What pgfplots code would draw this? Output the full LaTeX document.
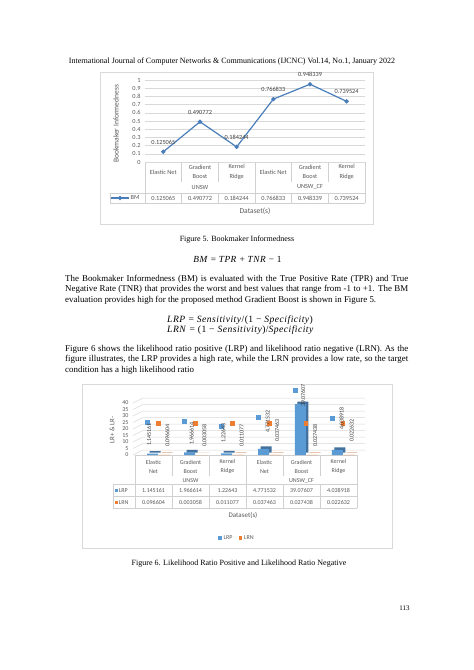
\documentclass[border=0pt]{standalone}
\usepackage{fontspec}
\setmainfont{Liberation Serif}
\newfontfamily\cf{Carlito}
\newfontfamily\eqf[LetterSpace=5]{Liberation Serif}
\usepackage{pgfplots}
\pgfplotsset{compat=1.18}
\definecolor{gridgray}{HTML}{D9D9D9}
\definecolor{tablegray}{HTML}{D0D0D0}
\definecolor{boxgray}{HTML}{D9D9D9}
\definecolor{txtgray}{HTML}{595959}
\definecolor{lbl}{HTML}{404040}
\definecolor{bmblue}{HTML}{4A7EBB}
\definecolor{lrpblue}{HTML}{5B9BD5}
\definecolor{lrpdark}{HTML}{41719C}
\definecolor{lrnorange}{HTML}{ED7D31}
\definecolor{lrndark}{HTML}{C0601F}
\hyphenpenalty=10000
\exhyphenpenalty=10000
\begin{document}
\begin{tikzpicture}
\begin{scope}[x=1pt,y=-1pt]
\path[use as bounding box, fill=white] (0,0) rectangle (474,670);
% header
\node[anchor=base, inner sep=0, font=\fontsize{8}{9.6}\selectfont] at (232,63.5) {International Journal of Computer Networks \& Communications (IJCNC) Vol.14, No.1, January 2022};
% chart boxes
\draw[boxgray, line width=0.6pt] (100,72) rectangle (373,224);
\draw[boxgray, line width=0.6pt] (82,384) rectangle (392,548);
% ---------- chart 1 texts
\node[rotate=90, font=\cf\fontsize{7.5}{9}\selectfont, text=txtgray] at (116,124) {Bookmaker Informedness};
\node[font=\cf\fontsize{7.5}{9}\selectfont, text=txtgray] at (255,211) {Dataset(s)};
% table lines chart 1
\begin{scope}[tablegray, line width=0.5pt]
\draw (145,162) -- (365,162);
\draw (145,162) -- (145,203);
\draw (365,162) -- (365,203);
\draw (255,162) -- (255,203);
\foreach \b in {181.67,218.33,291.67,328.33}{\draw (\b,162) -- (\b,182); \draw (\b,193) -- (\b,203);}
\draw (110,193) -- (365,193);
\draw (110,203) -- (365,203);
\draw (110,193) -- (110,203);
\end{scope}
\begin{scope}[every node/.style={font=\cf\fontsize{6.3}{9.5}\selectfont, text=txtgray, align=center, inner sep=0}]
\node at (163.3,172) {Elastic Net};
\node at (200,172) {Gradient\\Boost};
\node at (236.7,172) {Kernel\\Ridge};
\node at (273.3,172) {Elastic Net};
\node at (310,172) {Gradient\\Boost};
\node at (346.7,172) {Kernel\\Ridge};
\node at (200,187) {UNSW};
\node at (310,187) {UNSW\_CF};
\node at (163.3,198) {0.125065};
\node at (200,198) {0.490772};
\node at (236.7,198) {0.184244};
\node at (273.3,198) {0.766833};
\node at (310,198) {0.948339};
\node at (346.7,198) {0.739524};
\end{scope}
% ---------- body text
\node[anchor=base, inner sep=0, font=\fontsize{8}{9.6}\selectfont] at (237,241) {Figure 5. Bookmaker Informedness};
\node[anchor=base, inner sep=0, font=\eqf\fontsize{9.3}{11}\selectfont] at (237.5,262) {\textit{BM} = \textit{TPR} + \textit{TNR} − 1};
\node[anchor=base west, inner sep=0, text width=343pt, align=justify, font=\fontsize{8.9}{10.3}\selectfont] at (65,281.5) {The Bookmaker Informedness (BM) is evaluated with the True Positive Rate (TPR) and True\linebreak Negative Rate (TNR) that provides the worst and best values that range from -1 to +1. The BM\linebreak evaluation provides high for the proposed method Gradient Boost is shown in Figure 5.};
\node[anchor=base west, inner sep=0, font=\eqf\fontsize{9.6}{11}\selectfont] at (167,322) {\textit{LRP} = \textit{Sensitivity}/(1 − \textit{Specificity})};
\node[anchor=base west, inner sep=0, font=\eqf\fontsize{9.6}{11}\selectfont] at (167,332) {\textit{LRN} = (1 − \textit{Sensitivity})/\textit{Specificity}};
\node[anchor=base west, inner sep=0, text width=343pt, align=justify, font=\fontsize{8.9}{10.3}\selectfont] at (65,351.5) {Figure 6 shows the likelihood ratio positive (LRP) and likelihood ratio negative (LRN). As the\linebreak figure illustrates, the LRP provides a high rate, while the LRN provides a low rate, so the target\linebreak condition has a high likelihood ratio};
\node[anchor=base, inner sep=0, font=\fontsize{8}{9.6}\selectfont] at (239,565.5) {Figure 6. Likelihood Ratio Positive and Likelihood Ratio Negative};
\node[anchor=base, inner sep=0, font=\fontsize{7}{8}\selectfont] at (404.5,610.5) {113};
% ---------- chart 2 texts
\node[rotate=90, font=\cf\fontsize{6.8}{8}\selectfont, text=txtgray] at (112,430) {LR+ \& LR-};
\node[font=\cf\fontsize{7}{8}\selectfont, text=txtgray] at (243,515) {Dataset(s)};
\begin{scope}[tablegray, line width=0.5pt]
\draw (135,455) -- (357,455);
\draw (135,455) -- (135,508);
\draw (357,455) -- (357,508);
\draw (246,455) -- (246,508);
\foreach \b in {172,209,283,320}{\draw (\b,455) -- (\b,476); \draw (\b,484) -- (\b,508);}
\draw (113,484) -- (357,484);
\draw (113,496) -- (357,496);
\draw (113,508) -- (357,508);
\draw (113,484) -- (113,508);
\end{scope}
\begin{scope}[every node/.style={font=\cf\fontsize{6}{9}\selectfont, text=txtgray, align=center, inner sep=0}]
\node at (153.5,466.5) {Elastic\\Net};
\node at (190.5,466.5) {Gradient\\Boost};
\node at (227.5,466.5) {Kernel\\Ridge};
\node at (264.5,466.5) {Elastic\\Net};
\node at (301.5,466.5) {Gradient\\Boost};
\node at (338.5,466.5) {Kernel\\Ridge};
\node at (190.5,481) {UNSW};
\node at (301.5,481) {UNSW\_CF};
\node[anchor=west] at (114.5,490.5) {{\color{lrpblue}\rule{3.2pt}{3.2pt}}\,LRP};
\node[anchor=west] at (114.5,502.5) {{\color{lrnorange}\rule{3.2pt}{3.2pt}}\,LRN};
\node at (153.5,490.5) {1.145161};
\node at (190.5,490.5) {1.966614};
\node at (227.5,490.5) {1.22643};
\node at (264.5,490.5) {4.771532};
\node at (301.5,490.5) {39.07607};
\node at (338.5,490.5) {4.038918};
\node at (153.5,502.5) {0.096604};
\node at (190.5,502.5) {0.003058};
\node at (227.5,502.5) {0.011077};
\node at (264.5,502.5) {0.037463};
\node at (301.5,502.5) {0.027438};
\node at (338.5,502.5) {0.022632};
\end{scope}
\end{scope}

% ================= chart 1 axis
\begin{axis}[at={(145pt,-162pt)}, anchor=south west, scale only axis,
  width=220pt, height=82pt, xmin=-0.5, xmax=5.5, ymin=0, ymax=1,
  axis line style={draw=none}, xtick=\empty,
  ytick={0,0.1,0.2,0.3,0.4,0.5,0.6,0.7,0.8,0.9,1},
  yticklabels={0,0.1,0.2,0.3,0.4,0.5,0.6,0.7,0.8,0.9,1},
  major tick length=0pt, ymajorgrids, grid style={gridgray, line width=0.5pt},
  tick label style={font=\cf\fontsize{6.3}{7}\selectfont, text=txtgray},
  yticklabel style={xshift=-1pt},
  clip=false,
  legend style={at={(-0.158,-0.439)}, anchor=west, draw=none, fill=none, inner sep=0pt,
    font=\cf\fontsize{6.3}{7}\selectfont, text=txtgray, nodes={inner sep=1pt}},
  legend cell align=left]
\addplot[bmblue, line width=1.2pt, mark=*, mark size=1.5pt, mark options={fill=bmblue},
  point meta=explicit symbolic, nodes near coords,
  every node near coord/.append style={yshift=3.5pt, font=\cf\fontsize{6.3}{7}\selectfont, text=lbl},
  legend image code/.code={\draw[bmblue, line width=1.2pt] (0pt,0pt) -- (18pt,0pt); \fill[bmblue] (9pt,0pt) circle (1.5pt);}]
  coordinates {(0,0.125065)[0.125065] (1,0.490772)[0.490772] (2,0.184244)[0.184244]
               (3,0.766833)[0.766833] (4,0.948339)[0.948339] (5,0.739524)[0.739524]};
\addlegendentry{BM}
\end{axis}

% ================= chart 2 axis
\begin{axis}[at={(135pt,-455pt)}, anchor=south west, scale only axis,
  width=222pt, height=52pt, xmin=-0.5, xmax=5.5, ymin=0, ymax=40,
  axis line style={draw=none}, xtick=\empty,
  ytick={0,5,10,15,20,25,30,35,40},
  yticklabels={0,5,10,15,20,25,30,35,40},
  major tick length=0pt,
  tick label style={font=\cf\fontsize{6}{7}\selectfont, text=txtgray},
  yticklabel style={xshift=-3pt},
  clip=false,
  legend style={at={(0.459,-1.596)}, anchor=center, legend columns=2, draw=none, fill=none,
    font=\cf\fontsize{6}{7}\selectfont, text=txtgray,
    /tikz/every even column/.append style={column sep=4pt}}]
\pgfplotsinvokeforeach{0,5,10,15,20,25,30,35,40}{
  \draw[gridgray, line width=0.5pt] (axis cs:-0.5,#1) ++(-2pt,0pt) -- ++(10pt,5pt) -- ++(222pt,0pt);
}
\addplot[ybar, bar width=11pt, bar shift=1.5pt, fill=lrpdark, draw=none, yshift=2.5pt, forget plot]
  coordinates {(0,1.145161) (1,1.966614) (2,1.22643) (3,4.771532) (4,39.07607) (5,4.038918)};
\addplot[ybar, bar width=11pt, bar shift=-1pt, fill=lrpblue, draw=none,
  legend image code/.code={\fill[lrpblue] (0pt,-1.8pt) rectangle (3.6pt,1.8pt);}]
  coordinates {(0,1.145161) (1,1.966614) (2,1.22643) (3,4.771532) (4,39.07607) (5,4.038918)};
\addlegendentry{LRP}
\addplot[ybar, bar width=11pt, bar shift=13.5pt, fill=lrndark, draw=none, yshift=2.5pt, forget plot]
  coordinates {(0,0.096604) (1,0.003058) (2,0.011077) (3,0.037463) (4,0.027438) (5,0.022632)};
\addplot[ybar, bar width=11pt, bar shift=11pt, fill=lrnorange, draw=none,
  legend image code/.code={\fill[lrnorange] (0pt,-1.8pt) rectangle (3.6pt,1.8pt);}]
  coordinates {(0,0.096604) (1,0.003058) (2,0.011077) (3,0.037463) (4,0.027438) (5,0.022632)};
\addlegendentry{LRN}
\addplot[only marks, mark=square*, mark size=1.9pt, lrpblue, xshift=-6.5pt, forget plot]
  coordinates {(0,25.4) (1,26.2) (2,22.3) (3,29.2) (4,50) (5,28.5)};
\addplot[only marks, mark=square*, mark size=1.9pt, lrnorange, xshift=4.3pt, forget plot]
  coordinates {(0,24.6) (1,24.6) (2,24.6) (3,24.6) (4,24.6) (5,24.6)};
\end{axis}

% data labels chart 2
\begin{scope}[x=1pt,y=-1pt, every node/.style={rotate=90, anchor=west, inner sep=0, font=\cf\fontsize{6}{7}\selectfont, text=lbl}]
\node at (149,446) {1.145161};
\node at (191.7,445) {1.966614};
\node at (223.3,443) {1.22643};
\node at (267.7,433) {4.771532};
\node at (303,407) {39.07607};
\node at (341.7,430) {4.038918};
\node at (167.3,447) {0.096604};
\node at (204.3,447) {0.003058};
\node at (241.7,447) {0.011077};
\node at (277,442) {0.037463};
\node at (315,447) {0.027438};
\node at (351.7,442) {0.022632};
\end{scope}
\end{tikzpicture}
\end{document}
